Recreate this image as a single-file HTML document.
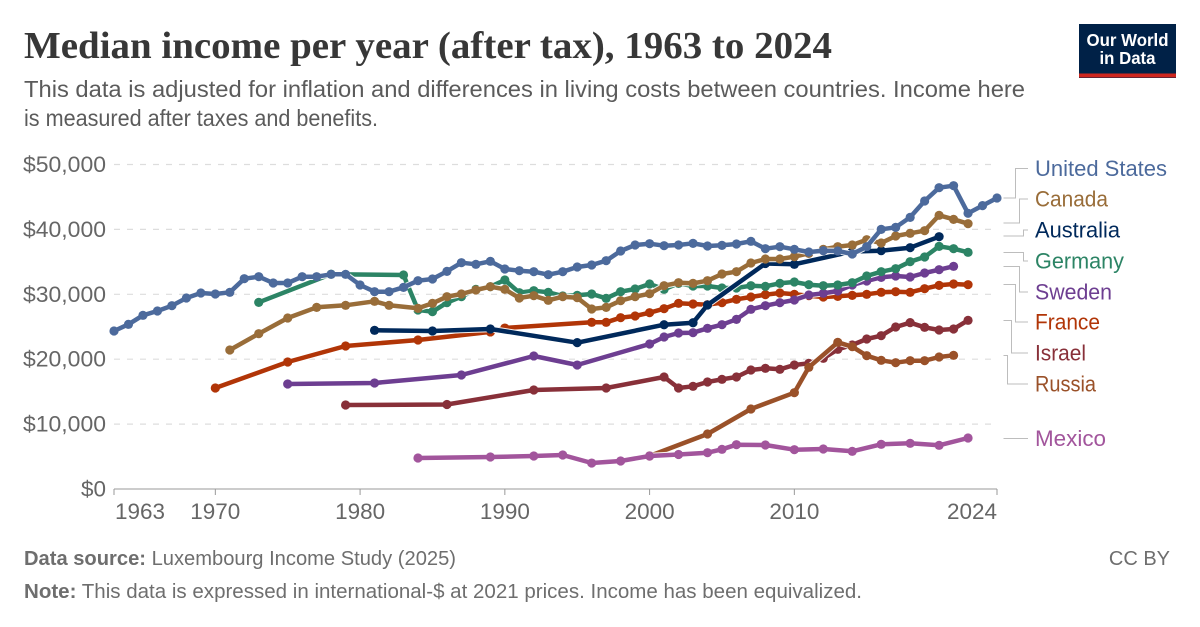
<!DOCTYPE html>
<html lang="en">
<head>
<meta charset="utf-8">
<title>Median income per year (after tax), 1963 to 2024</title>
<style>
html,body{margin:0;padding:0;background:#fff;}
svg{display:block;}
text{font-family:"Liberation Sans",sans-serif;}
.title{font-family:"Liberation Serif",serif;font-weight:bold;font-size:38px;fill:#373737;}
.sub{font-size:23px;fill:#5b5b5b;}
.foot{font-size:20px;fill:#6e6e6e;}
.tick{font-size:22px;fill:#666;}
.lab{font-size:22px;}
</style>
</head>
<body>
<svg id="chart" width="1200" height="627" viewBox="0 0 1200 627" xmlns="http://www.w3.org/2000/svg">
  <rect width="1200" height="627" fill="#fff"/>
  <text class="title" x="24" y="58" textLength="808" lengthAdjust="spacingAndGlyphs">Median income per year (after tax), 1963 to 2024</text>
  <text class="sub" x="24" y="97" textLength="1001" lengthAdjust="spacingAndGlyphs">This data is adjusted for inflation and differences in living costs between countries. Income here</text>
  <text class="sub" x="24" y="126" textLength="354" lengthAdjust="spacingAndGlyphs">is measured after taxes and benefits.</text>

  <g>
    <rect x="1079" y="24" width="97" height="54" fill="#002147"/>
    <rect x="1079" y="73.5" width="97" height="4" fill="#ce261e"/>
    <text x="1127.5" y="46" text-anchor="middle" font-size="17.5" font-weight="bold" fill="#fff" textLength="82" lengthAdjust="spacingAndGlyphs">Our World</text>
    <text x="1127.5" y="64" text-anchor="middle" font-size="17.5" font-weight="bold" fill="#fff" textLength="56" lengthAdjust="spacingAndGlyphs">in Data</text>
  </g>

  <g id="grid"></g>
  <g id="yticks"></g>
  <g id="xaxis"></g>
  <g id="series"></g>
  <g id="connectors"></g>
  <g id="labels"></g>

  <text class="foot" x="24" y="565" textLength="432" lengthAdjust="spacingAndGlyphs"><tspan font-weight="bold">Data source:</tspan> Luxembourg Income Study (2025)</text>
  <text class="foot" x="24" y="598" textLength="838" lengthAdjust="spacingAndGlyphs"><tspan font-weight="bold">Note:</tspan> This data is expressed in international-$ at 2021 prices. Income has been equivalized.</text>
  <text class="foot" x="1170" y="565" text-anchor="end">CC BY</text>
</svg>
<script>
// ---- Tick data ----
const yTickValues = [0, 10000, 20000, 30000, 40000, 50000];
const yTickLabels = ["$0", "$10,000", "$20,000", "$30,000", "$40,000", "$50,000"];
const xTickYears = [1963, 1970, 1980, 1990, 2000, 2010, 2024];

// ---- Series data ----
const usYears = [1963,1964,1965,1966,1967,1968,1969,1970,1971,1972,1973,1974,1975,1976,1977,1978,1979,1980,1981,1982,1983,1984,1985,1986,1987,1988,1989,1990,1991,1992,1993,1994,1995,1996,1997,1998,1999,2000,2001,2002,2003,2004,2005,2006,2007,2008,2009,2010,2011,2012,2013,2014,2015,2016,2017,2018,2019,2020,2021,2022,2023,2024];
const usValues = [24345,25372,26760,27426,28248,29430,30200,30046,30303,32408,32716,31740,31740,32716,32716,33076,33076,31432,30405,30405,31072,32100,32357,33538,34874,34617,35080,33898,33640,33487,33024,33487,34206,34514,35182,36671,37595,37800,37492,37595,37852,37441,37544,37749,38161,37030,37338,36928,36517,36722,36671,36209,37338,40009,40317,41858,44375,46430,46738,42480,43660,44840];

const canadaYears = [1971,1973,1975,1977,1979,1981,1982,1984,1985,1986,1987,1988,1989,1990,1991,1992,1993,1994,1995,1996,1997,1998,1999,2000,2001,2002,2003,2004,2005,2006,2007,2008,2009,2010,2011,2012,2013,2014,2015,2016,2017,2018,2019,2020,2021,2022];
const canadaValues = [21417,23933,26348,27990,28300,28917,28300,27837,28608,29634,30046,30662,31175,30765,29430,29789,29070,29634,29481,27735,27991,29019,29634,30097,31329,31791,31689,32100,33127,33487,34822,35438,35438,35797,36311,36928,37338,37595,38418,37903,38983,39394,39805,42167,41550,40882];

const australiaYears = [1981,1985,1989,1995,2001,2003,2004,2008,2010,2014,2016,2018,2020];
const australiaValues = [24450,24350,24650,22550,25310,25618,28350,34750,34617,36600,36722,37184,38880];

const germanyYears = [1973,1978,1983,1984,1985,1986,1987,1988,1989,1990,1991,1992,1993,1994,1995,1996,1997,1998,1999,2000,2001,2002,2003,2004,2005,2006,2007,2008,2009,2010,2011,2012,2013,2014,2015,2016,2017,2018,2019,2020,2021,2022];
const germanyValues = [28760,33100,32970,27580,27322,28710,29634,30765,31175,32203,30251,30559,30303,29738,29840,30046,29378,30405,30816,31586,30765,31689,31278,31278,30970,30970,31329,31227,31689,31895,31483,31329,31432,31791,32819,33487,33949,35027,35746,37390,37030,36466];

const swedenYears = [1975,1981,1987,1992,1995,2000,2001,2002,2003,2004,2005,2006,2007,2008,2009,2010,2011,2012,2013,2014,2015,2016,2017,2018,2019,2020,2021];
const swedenValues = [16180,16330,17570,20500,19100,22340,23420,24040,24088,24756,25320,26142,27683,28248,28710,29121,29892,30149,30508,31432,32049,32613,32819,32665,33281,33795,34309];

const franceYears = [1970,1975,1979,1984,1989,1990,1996,1997,1998,1999,2000,2001,2002,2003,2004,2005,2006,2007,2008,2009,2010,2011,2012,2013,2014,2015,2016,2017,2018,2019,2020,2021,2022];
const franceValues = [15560,19570,22030,22960,24200,24800,25680,25680,26400,26656,27170,27786,28608,28505,28400,28710,29224,29584,29943,30200,29995,29789,29584,29686,29840,29995,30303,30405,30303,30867,31380,31586,31483];

const israelYears = [1979,1986,1992,1997,2001,2002,2003,2004,2005,2006,2007,2008,2009,2010,2011,2012,2013,2014,2015,2016,2017,2018,2019,2020,2021,2022];
const israelValues = [12940,13020,15250,15560,17260,15560,15819,16487,16898,17257,18336,18593,18439,19106,19363,20134,21520,22188,23112,23625,24960,25630,24910,24498,24652,25989];

const russiaYears = [2000,2004,2007,2010,2011,2013,2014,2015,2016,2017,2018,2019,2020,2021];
const russiaValues = [5080,8474,12326,14843,18747,22599,21930,20544,19825,19465,19773,19773,20339,20596];

const mexicoYears = [1984,1989,1992,1994,1996,1998,2000,2002,2004,2005,2006,2008,2010,2012,2014,2016,2018,2020,2022];
const mexicoValues = [4780,4930,5080,5240,4000,4310,5080,5320,5598,6112,6830,6780,6060,6163,5804,6883,7037,6729,7858];

// ---- Axis functions ----
const xMinYear = 1963, xMaxYear = 2024, xLeft = 114, xRight = 997;
const yMinValue = 0, yMaxValue = 50000, yBottom = 489, yTop = 164.5;
function xScale(year){ return xLeft + (year - xMinYear) / (xMaxYear - xMinYear) * (xRight - xLeft); }
function yScale(value){ return yBottom - (value - yMinValue) / (yMaxValue - yMinValue) * (yBottom - yTop); }

const NS = "http://www.w3.org/2000/svg";
function make(tag, parent, attrs){
  const el = document.createElementNS(NS, tag);
  for (const k in attrs) el.setAttribute(k, attrs[k]);
  parent.appendChild(el);
  return el;
}

// Gridlines and y ticks
const gridG = document.getElementById("grid");
const yG = document.getElementById("yticks");
yTickValues.forEach(function(v, i){
  if (v !== 0) {
    const line = make("line", gridG, {x1:xLeft, x2:xRight, y1:yScale(v), y2:yScale(v), stroke:"#dddddd", "stroke-width":1.2, "stroke-dasharray":"6,7"});
    
    
  }
  const t = make("text", yG, {class:"tick", x:106, y:yScale(v)+7.5, "text-anchor":"end", textLength:(v === 0 ? 25 : 83), lengthAdjust:"spacingAndGlyphs"});
  t.textContent = yTickLabels[i];
  
  
});

// X axis
const xG = document.getElementById("xaxis");
const axisLine = make("line", xG, {x1:xLeft, x2:xRight, y1:yBottom, y2:yBottom, stroke:"#999", "stroke-width":1});


xTickYears.forEach(function(yr){
  const tk = make("line", xG, {x1:xScale(yr), x2:xScale(yr), y1:yBottom, y2:yBottom+6, stroke:"#999", "stroke-width":1});
  
  
  let anchor = "middle", tx = xScale(yr);
  if (yr === xMinYear) { anchor = "start"; tx = xScale(yr) + 1; }
  if (yr === xMaxYear) { anchor = "end"; }
  const t = make("text", xG, {class:"tick", x:tx, y:519, "text-anchor":anchor, textLength:50, lengthAdjust:"spacingAndGlyphs"});
  t.textContent = String(yr);
  
  
});

// Series, drawn back to front
const seriesList = [
  {key:"israel", name:"Israel", color:"#883039", years:israelYears, values:israelValues, ly:353, bx:1011.5, w:51},
  {key:"russia", name:"Russia", color:"#9A5129", years:russiaYears, values:russiaValues, ly:384, bx:1007.5, w:61},
  {key:"mexico", name:"Mexico", color:"#A2559C", years:mexicoYears, values:mexicoValues, ly:438.5, bx:null, w:71},
  {key:"france", name:"France", color:"#B13507", years:franceYears, values:franceValues, ly:322, bx:1015.5, w:65},
  {key:"sweden", name:"Sweden", color:"#6D3E91", years:swedenYears, values:swedenValues, ly:292, bx:1019.5, w:77},
  {key:"germany", name:"Germany", color:"#2C8465", years:germanyYears, values:germanyValues, ly:261, bx:1023.5, w:89},
  {key:"australia", name:"Australia", color:"#00295B", years:australiaYears, values:australiaValues, ly:230, bx:1023.5, w:85},
  {key:"canada", name:"Canada", color:"#996D39", years:canadaYears, values:canadaValues, ly:199, bx:1019.5, w:73},
  {key:"us", name:"United States", color:"#4C6A9C", years:usYears, values:usValues, ly:168.5, bx:1015.5, w:132}
];
const seriesG = document.getElementById("series");
const connG = document.getElementById("connectors");
const labG = document.getElementById("labels");
seriesList.forEach(function(s){
  const g = make("g", seriesG, {});
  
  
  const pts = s.years.map(function(y, i){ return xScale(y).toFixed(1) + "," + yScale(s.values[i]).toFixed(1); }).join(" ");
  const halo = make("polyline", g, {points:pts, fill:"none", stroke:"#fff", "stroke-width":6.5, "stroke-linejoin":"round", "stroke-linecap":"round", "stroke-opacity":0.9});
  
  
  const line = make("polyline", g, {points:pts, fill:"none", stroke:s.color, "stroke-width":4.5, "stroke-linejoin":"round", "stroke-linecap":"round"});
  
  
  s.years.forEach(function(y, i){
    const c = make("circle", g, {cx:xScale(y), cy:yScale(s.values[i]), r:4.6, fill:s.color});
    
    
  });
});

// Connector start rows (separated to avoid overlap, as in the original layout)
const connectorStartY = {us:198, canada:223, australia:236, germany:252.5, sweden:266.5, france:284.5, israel:320.5, russia:355.5, mexico:438.5};
seriesList.forEach(function(s){
  const y0 = connectorStartY[s.key];
  const d = s.bx === null
    ? "M1003.5 " + y0 + "H1028"
    : "M1003.5 " + y0 + "H" + s.bx + "V" + s.ly + "H1028";
  const p = make("path", connG, {d:d, fill:"none", stroke:"#bdbdbd", "stroke-width":1});
  
  
  const t = make("text", labG, {class:"lab", x:1035, y:s.ly+7.5, fill:s.color, textLength:s.w, lengthAdjust:"spacingAndGlyphs"});
  t.textContent = s.name;
  
  
});
</script>
</body>
</html>
